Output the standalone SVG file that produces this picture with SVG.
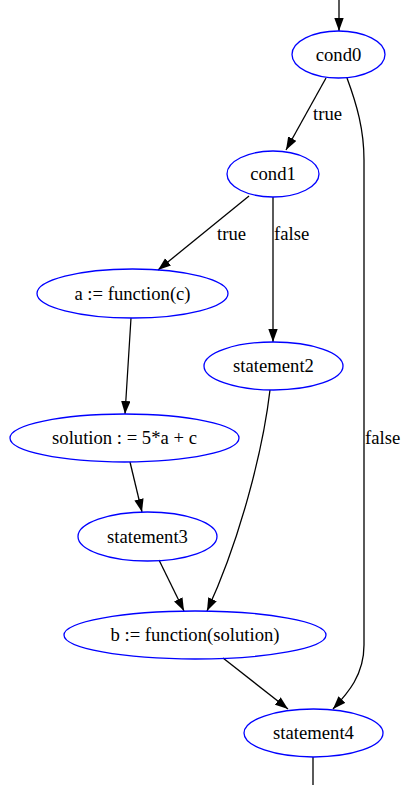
<svg xmlns="http://www.w3.org/2000/svg" width="412" height="790" viewBox="0 0 412 790">
<style>
.node ellipse{fill:none;stroke:#0000ff;stroke-width:1.3}
.node text{font-family:"Liberation Serif","Times New Roman",serif;font-size:18.67px;text-anchor:middle;fill:#000}
.edges path{fill:none;stroke:#000;stroke-width:1.3}
.lbl{font-family:"Liberation Serif","Times New Roman",serif;font-size:18.67px;fill:#000}
</style>
<defs>
<marker id="arr" markerUnits="userSpaceOnUse" markerWidth="14" markerHeight="10" refX="13" refY="4.7" orient="auto">
<path d="M0,0 L13,4.7 L0,9.4 z" fill="#000"/>
</marker>
</defs>
<rect width="412" height="790" fill="#fff"/>
<g class="edges">
<path d="M339,0 L339,31" marker-end="url(#arr)"/>
<path d="M326,78 L286,150" marker-end="url(#arr)"/>
<path d="M347,78 C357,105 364,130 364,160 L364,645 C364,675 348,693 333,709" marker-end="url(#arr)"/>
<path d="M249,196 L158,270" marker-end="url(#arr)"/>
<path d="M273,197 L273,342" marker-end="url(#arr)"/>
<path d="M131,318 L125,414" marker-end="url(#arr)"/>
<path d="M270,390 C263,450 240,540 207,611" marker-end="url(#arr)"/>
<path d="M130,462 L142,512" marker-end="url(#arr)"/>
<path d="M159,560 L184,611" marker-end="url(#arr)"/>
<path d="M223,658 L288,709" marker-end="url(#arr)"/>
<path d="M313,757 L313,785"/>
<text class="lbl" x="313" y="120">true</text>
<text class="lbl" x="217" y="240">true</text>
<text class="lbl" x="274" y="240">false</text>
<text class="lbl" x="365" y="444">false</text>
</g>
<g id="cond0" class="node"><ellipse cx="338.5" cy="54.5" rx="46.5" ry="23.5"/><text x="338.5" y="60.5">cond0</text></g>
<g id="cond1" class="node"><ellipse cx="273" cy="174" rx="46" ry="23"/><text x="273" y="180">cond1</text></g>
<g id="a" class="node"><ellipse cx="132.5" cy="293.5" rx="95.5" ry="24.5"/><text x="132.5" y="299.5">a := function(c)</text></g>
<g id="statement2" class="node"><ellipse cx="273.5" cy="366" rx="69.5" ry="24"/><text x="273.5" y="372">statement2</text></g>
<g id="solution" class="node"><ellipse cx="124.5" cy="438" rx="114.5" ry="24"/><text x="124.5" y="444">solution : = 5*a + c</text></g>
<g id="statement3" class="node"><ellipse cx="147.5" cy="536.5" rx="69.5" ry="24.5"/><text x="147.5" y="542.5">statement3</text></g>
<g id="b" class="node"><ellipse cx="195" cy="635" rx="131" ry="24"/><text x="195" y="641">b := function(solution)</text></g>
<g id="statement4" class="node"><ellipse cx="313.5" cy="733" rx="69.5" ry="24"/><text x="313.5" y="739">statement4</text></g>
</svg>
